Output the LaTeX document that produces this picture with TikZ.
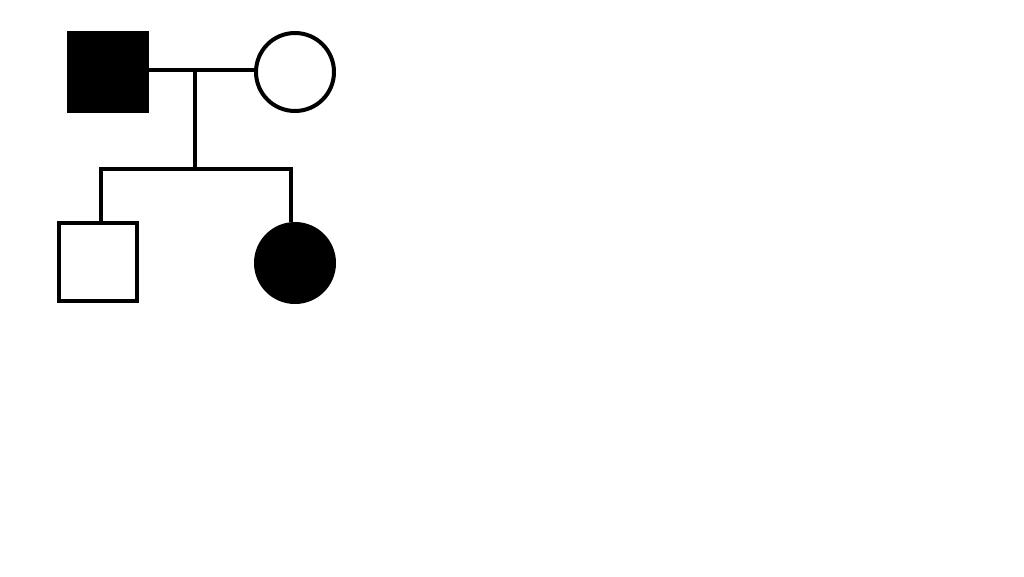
\documentclass[tikz,border=0pt]{standalone}
\begin{document}
\begin{tikzpicture}[x=1pt,y=-1pt,
  ln/.style={line width=4pt},
  male/.style={draw,ln,rectangle,minimum size=78pt,inner sep=0pt},
  female/.style={draw,ln,circle,minimum size=78pt,inner sep=0pt}]
\useasboundingbox (0,0) rectangle (1024,576);
\node[male,fill=black] (f) at (107.5,72) {};
\node[female] (m) at (295,72) {};
\node[male] (s) at (98,262) {};
\node[female,fill=black] (d) at (295,263) {};
\coordinate (mid) at (195,70);
\coordinate (sib) at (195,169);
\coordinate (sl) at (101,169);
\coordinate (sr) at (291,169);
\draw[ln] (f.east |- mid) -- (m.west |- mid);
\draw[ln] (mid) -- (sib);
\draw[ln] ([xshift=-2pt]sl) -- ([xshift=2pt]sr);
\draw[ln] (sl) -- (sl |- s.north);
\draw[ln] (sr) -- (sr |- d.north);
\end{tikzpicture}
\end{document}
